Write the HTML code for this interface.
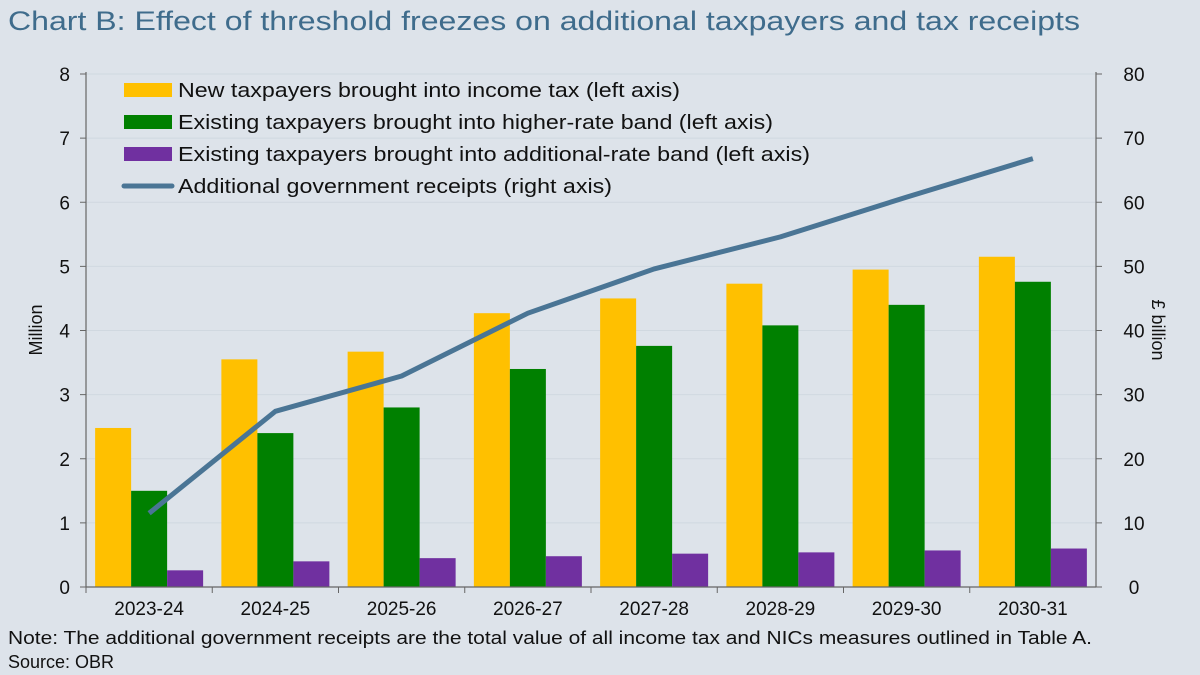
<!DOCTYPE html>
<html><head><meta charset="utf-8"><style>
body{margin:0;background:#dde3ea;font-family:"Liberation Sans",sans-serif;}
svg text{font-family:"Liberation Sans",sans-serif;fill:#111;}
</style></head><body>
<svg id="c" width="1200" height="670">
<rect width="1200" height="670" fill="#dde3ea"/>
<text x="8" y="30" font-size="27" textLength="1072" lengthAdjust="spacingAndGlyphs" style="fill:#3f6c8c">Chart B: Effect of threshold freezes on additional taxpayers and tax receipts</text>
<text x="8" y="644" font-size="18" textLength="1084" lengthAdjust="spacingAndGlyphs">Note: The additional government receipts are the total value of all income tax and NICs measures outlined in Table A.</text>
<text x="8" y="668" font-size="18">Source: OBR</text>
<g id="g"></g>
</svg>
<script>
const categories=["2023-24","2024-25","2025-26","2026-27","2027-28","2028-29","2029-30","2030-31"];
const newTaxpayers=[2.48,3.55,3.67,4.27,4.5,4.73,4.95,5.15];
const higherRate=[1.5,2.4,2.8,3.4,3.76,4.08,4.4,4.76];
const additionalRate=[0.26,0.4,0.45,0.48,0.52,0.54,0.57,0.6];
const receipts=[11.5,27.4,32.9,42.7,49.6,54.6,60.8,66.8];
const leftTicks=[0,1,2,3,4,5,6,7,8];
const rightTicks=[0,10,20,30,40,50,60,70,80];
const legendLabels=["New taxpayers brought into income tax (left axis)","Existing taxpayers brought into higher-rate band (left axis)","Existing taxpayers brought into additional-rate band (left axis)","Additional government receipts (right axis)"];
const legendWidths=[502,595,632,434];
const X0=86,X1=1096,Y0=587,Y1=74;
const band=(X1-X0)/categories.length;
const yL=v=>Y0-(v/8)*(Y0-Y1);
const yR=v=>Y0-(v/80)*(Y0-Y1);
const g=document.getElementById('g');
const NS="http://www.w3.org/2000/svg";
function mk(t,a,txt){const e=document.createElementNS(NS,t);for(const k in a)e.setAttribute(k,a[k]);if(txt!==undefined)e.textContent=txt;g.appendChild(e);return e;}
leftTicks.forEach(t=>{
 if(t>0){const gl=mk('line',{x1:X0,x2:X1,y1:yL(t),y2:yL(t),stroke:'#d0d8e0','stroke-width':1});
 
 }
 const tk=mk('line',{x1:X0-6,x2:X0,y1:yL(t),y2:yL(t),stroke:'#666'});
 
 
 const l=mk('text',{x:X0-16,y:yL(t)+7,'font-size':19,'text-anchor':'end'},t);
 
 
});
rightTicks.forEach(t=>{
 const tk=mk('line',{x1:X1,x2:X1+6,y1:yR(t),y2:yR(t),stroke:'#666'});
 
 
 const l=mk('text',{x:X1+38,y:yR(t)+7,'font-size':19,'text-anchor':'middle'},t);
 
 
});
const series=[[newTaxpayers,'#ffc000','bar-new'],[higherRate,'#008000','bar-higher'],[additionalRate,'#7030a0','bar-additional']];
const bw=36;
categories.forEach((c,i)=>{
 const gx=X0+i*band+(band-3*bw)/2;
 series.forEach((s,j)=>{
  const r=mk('rect',{x:gx+j*bw,y:yL(s[0][i]),width:bw,height:Y0-yL(s[0][i]),fill:s[1]});
  
  
 });
 const ct=mk('line',{x1:X0+i*band,x2:X0+i*band,y1:Y0,y2:Y0+6,stroke:'#666'});
 
 
 const l=mk('text',{x:X0+(i+0.5)*band,y:Y0+28,'font-size':19,'text-anchor':'middle'},c);
 
 
});
const ax=[[X0,Y1-2,X0,Y0],[X1,Y1-2,X1,Y0],[X0,Y0,X1,Y0]];
ax.forEach(a=>{const e=mk('line',{x1:a[0],y1:a[1],x2:a[2],y2:a[3],stroke:'#666','stroke-width':1.2});
 
 });
const pts=receipts.map((v,i)=>(X0+(i+0.5)*band)+','+yR(v)).join(' ');
const pl=mk('polyline',{points:pts,fill:'none',stroke:'#4a7595','stroke-width':5,'stroke-linejoin':'round'});


const yt=mk('text',{x:0,y:0,'font-size':18,'text-anchor':'middle',transform:'translate(42,330) rotate(-90)'},'Million');


const yt2=mk('text',{x:0,y:0,'font-size':18,'text-anchor':'middle',transform:'translate(1152,330) rotate(90)'},'£ billion');


const lc=['#ffc000','#008000','#7030a0','#4a7595'];
legendLabels.forEach((t,i)=>{
 const y=89+i*32;
 if(i<3){const r=mk('rect',{x:124,y:y-6,width:48,height:14,fill:lc[i]});
  
  }
 else{const r=mk('line',{x1:124,x2:172,y1:y+1,y2:y+1,stroke:lc[i],'stroke-width':5,'stroke-linecap':'round'});
  
  }
 const l=mk('text',{x:178,y:y+8,'font-size':20,textLength:legendWidths[i],lengthAdjust:'spacingAndGlyphs'},t);
 
 
});
</script>
</body></html>
